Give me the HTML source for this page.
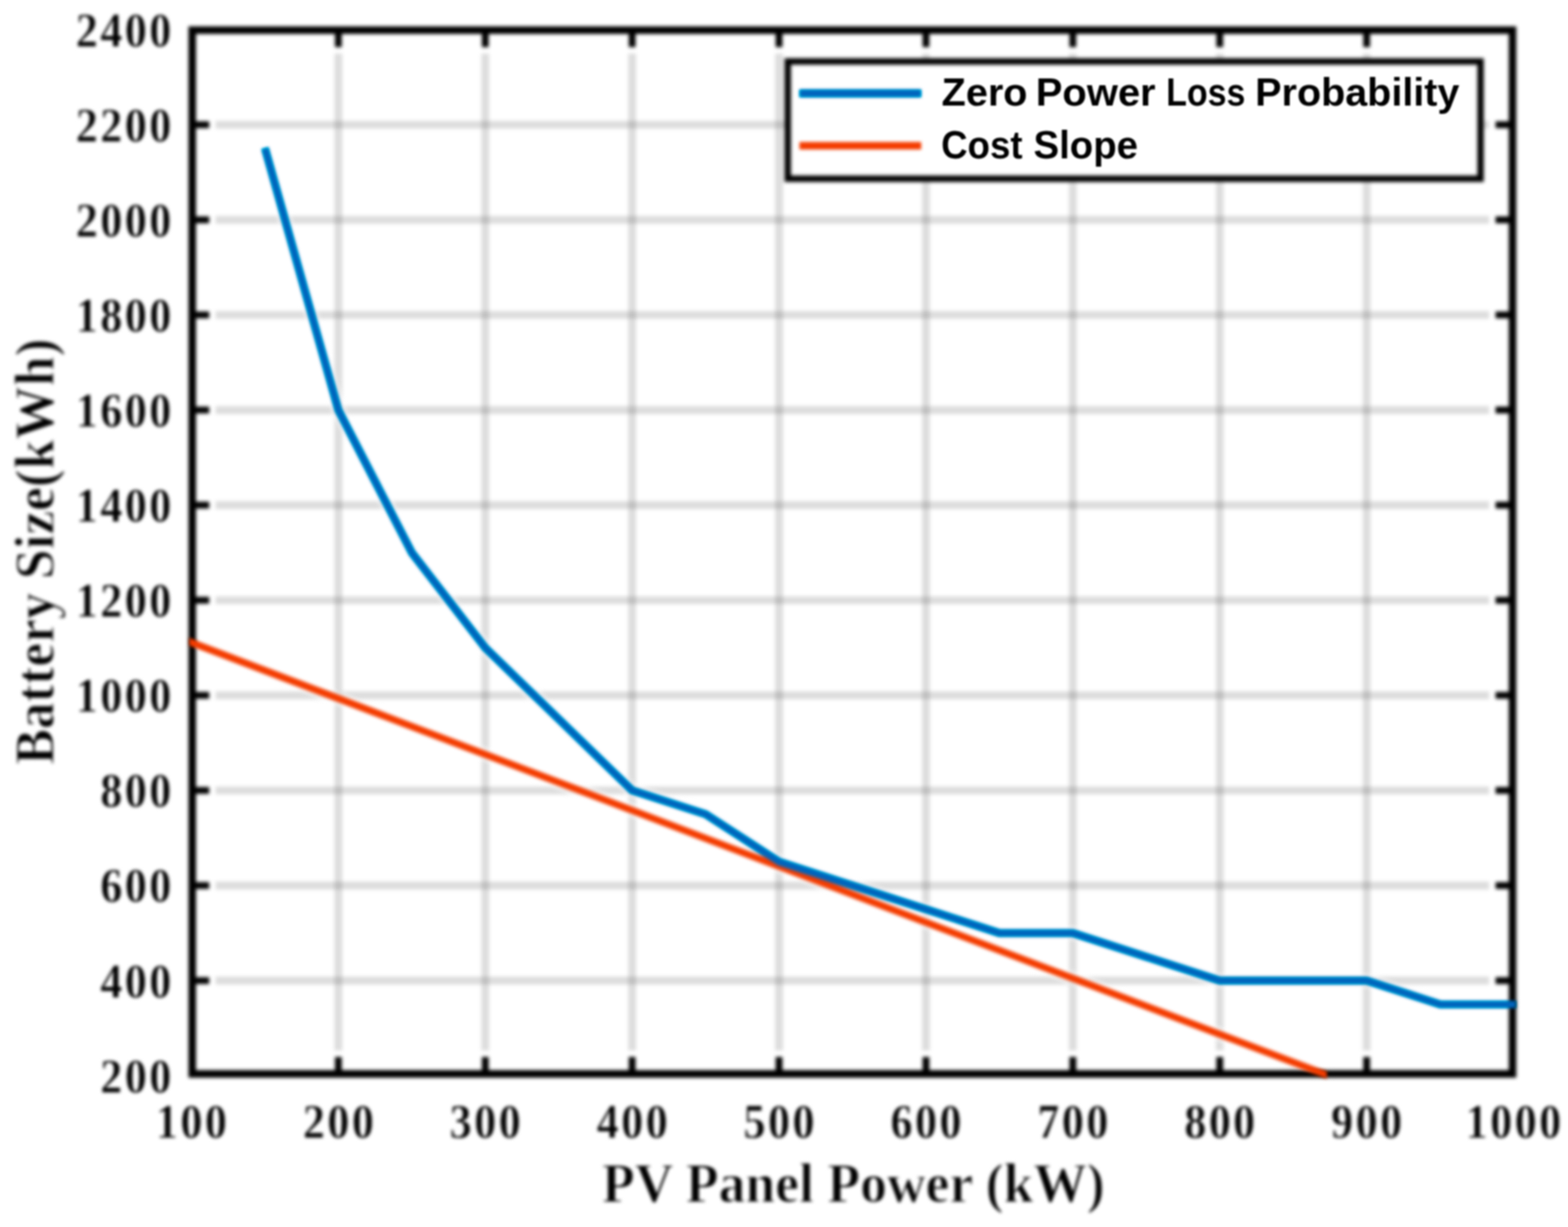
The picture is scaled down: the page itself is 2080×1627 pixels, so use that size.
<!DOCTYPE html>
<html lang="en"><head><meta charset="utf-8"><title>Battery Size vs PV Panel Power</title>
<style>
html,body{margin:0;padding:0;background:#fff;}
body{width:2080px;height:1627px;}
svg{display:block;}
.serif{font-family:"Liberation Serif","DejaVu Serif",serif;font-weight:bold;fill:#000;}
.sans{font-family:"Liberation Sans","DejaVu Sans",sans-serif;font-weight:bold;fill:#000;}
.mul{mix-blend-mode:multiply;}
</style></head><body>
<svg width="2080" height="1627" viewBox="0 0 2080 1627" role="img" aria-label="Battery size versus PV panel power">
<defs>
<filter id="soft" x="0" y="0" width="2080" height="1627" filterUnits="userSpaceOnUse" color-interpolation-filters="sRGB"><feGaussianBlur stdDeviation="2.4"/></filter>
<filter id="softc" x="0" y="0" width="2080" height="1627" filterUnits="userSpaceOnUse" color-interpolation-filters="sRGB"><feGaussianBlur stdDeviation="2.0"/></filter>
<filter id="softt" x="0" y="0" width="2080" height="1627" filterUnits="userSpaceOnUse" color-interpolation-filters="sRGB"><feGaussianBlur stdDeviation="2.2"/></filter>
<filter id="soft2" x="0" y="0" width="2080" height="1627" filterUnits="userSpaceOnUse" color-interpolation-filters="sRGB"><feGaussianBlur stdDeviation="0.9"/></filter>
<filter id="sat" x="0" y="0" width="2080" height="1627" filterUnits="userSpaceOnUse" color-interpolation-filters="sRGB"><feGaussianBlur stdDeviation="1.6"/><feComponentTransfer><feFuncA type="linear" slope="1.0" intercept="0"/></feComponentTransfer></filter>
<clipPath id="redclip"><rect x="251" y="0" width="1509" height="1430.5"/></clipPath>
<clipPath id="blueclip"><rect x="0" y="0" width="2010.9" height="1627"/></clipPath>
</defs>
<rect width="2080" height="1627" fill="#fff"/>
<g filter="url(#soft)">
<g stroke="#000" stroke-opacity="0.133" stroke-width="10.4" fill="none">
<line x1="448.85" y1="71" x2="448.85" y2="1393"/>
<line x1="643.71" y1="71" x2="643.71" y2="1393"/>
<line x1="838.57" y1="71" x2="838.57" y2="1393"/>
<line x1="1033.43" y1="71" x2="1033.43" y2="1393"/>
<line x1="1228.29" y1="71" x2="1228.29" y2="1393"/>
<line x1="1423.15" y1="71" x2="1423.15" y2="1393"/>
<line x1="1618.01" y1="71" x2="1618.01" y2="1393"/>
<line x1="1812.87" y1="71" x2="1812.87" y2="1393"/>
<line x1="286" y1="1300.3" x2="1975.4" y2="1300.3"/>
<line x1="286" y1="1174.2" x2="1975.4" y2="1174.2"/>
<line x1="286" y1="1048.1" x2="1975.4" y2="1048.1"/>
<line x1="286" y1="922" x2="1975.4" y2="922"/>
<line x1="286" y1="795.9" x2="1975.4" y2="795.9"/>
<line x1="286" y1="669.8" x2="1975.4" y2="669.8"/>
<line x1="286" y1="543.7" x2="1975.4" y2="543.7"/>
<line x1="286" y1="417.6" x2="1975.4" y2="417.6"/>
<line x1="286" y1="291.5" x2="1975.4" y2="291.5"/>
<line x1="286" y1="165.4" x2="1975.4" y2="165.4"/>
</g>
<g stroke="#fff" stroke-width="18" fill="none" stroke-linejoin="round" stroke-linecap="round" opacity="0.6">
<line x1="255" y1="852.4" x2="1760" y2="1425.5"/>
<polyline points="351.42,196.29 448.85,543.7 546.28,732.85 643.71,858.95 741.14,953.52 838.57,1048.1 936,1079.62 1033.43,1142.67 1130.86,1174.2 1228.29,1205.72 1325.72,1237.25 1423.15,1237.25 1520.58,1268.78 1618.01,1300.3 1715.44,1300.3 1812.87,1300.3 1910.3,1331.83 2007.73,1331.83 2013.58,1331.83"/>
</g>
<g stroke="#000" stroke-width="9" fill="none">
<line x1="448.85" y1="1424" x2="448.85" y2="1401.5"/>
<line x1="448.85" y1="40" x2="448.85" y2="62.5"/>
<line x1="643.71" y1="1424" x2="643.71" y2="1401.5"/>
<line x1="643.71" y1="40" x2="643.71" y2="62.5"/>
<line x1="838.57" y1="1424" x2="838.57" y2="1401.5"/>
<line x1="838.57" y1="40" x2="838.57" y2="62.5"/>
<line x1="1033.43" y1="1424" x2="1033.43" y2="1401.5"/>
<line x1="1033.43" y1="40" x2="1033.43" y2="62.5"/>
<line x1="1228.29" y1="1424" x2="1228.29" y2="1401.5"/>
<line x1="1228.29" y1="40" x2="1228.29" y2="62.5"/>
<line x1="1423.15" y1="1424" x2="1423.15" y2="1401.5"/>
<line x1="1423.15" y1="40" x2="1423.15" y2="62.5"/>
<line x1="1618.01" y1="1424" x2="1618.01" y2="1401.5"/>
<line x1="1618.01" y1="40" x2="1618.01" y2="62.5"/>
<line x1="1812.87" y1="1424" x2="1812.87" y2="1401.5"/>
<line x1="1812.87" y1="40" x2="1812.87" y2="62.5"/>
<line x1="255" y1="1300.3" x2="277.5" y2="1300.3"/>
<line x1="2006.4" y1="1300.3" x2="1983.9" y2="1300.3"/>
<line x1="255" y1="1174.2" x2="277.5" y2="1174.2"/>
<line x1="2006.4" y1="1174.2" x2="1983.9" y2="1174.2"/>
<line x1="255" y1="1048.1" x2="277.5" y2="1048.1"/>
<line x1="2006.4" y1="1048.1" x2="1983.9" y2="1048.1"/>
<line x1="255" y1="922" x2="277.5" y2="922"/>
<line x1="2006.4" y1="922" x2="1983.9" y2="922"/>
<line x1="255" y1="795.9" x2="277.5" y2="795.9"/>
<line x1="2006.4" y1="795.9" x2="1983.9" y2="795.9"/>
<line x1="255" y1="669.8" x2="277.5" y2="669.8"/>
<line x1="2006.4" y1="669.8" x2="1983.9" y2="669.8"/>
<line x1="255" y1="543.7" x2="277.5" y2="543.7"/>
<line x1="2006.4" y1="543.7" x2="1983.9" y2="543.7"/>
<line x1="255" y1="417.6" x2="277.5" y2="417.6"/>
<line x1="2006.4" y1="417.6" x2="1983.9" y2="417.6"/>
<line x1="255" y1="291.5" x2="277.5" y2="291.5"/>
<line x1="2006.4" y1="291.5" x2="1983.9" y2="291.5"/>
<line x1="255" y1="165.4" x2="277.5" y2="165.4"/>
<line x1="2006.4" y1="165.4" x2="1983.9" y2="165.4"/>
</g>
<rect x="255" y="40" width="1751.4" height="1384" fill="none" stroke="#000" stroke-width="10"/>
<rect x="1045" y="81.5" width="919" height="155.5" fill="#fff" stroke="#000" stroke-width="8.5"/>
</g>
<g class="mul" filter="url(#sat)">
<g clip-path="url(#blueclip)"><polyline points="351.42,196.29 448.85,543.7 546.28,732.85 643.71,858.95 741.14,953.52 838.57,1048.1 936,1079.62 1033.43,1142.67 1130.86,1174.2 1228.29,1205.72 1325.72,1237.25 1423.15,1237.25 1520.58,1268.78 1618.01,1300.3 1715.44,1300.3 1812.87,1300.3 1910.3,1331.83 2007.73,1331.83 2013.58,1331.83" fill="none" stroke="#00ffff" stroke-width="9.2" stroke-linejoin="round" stroke-linecap="butt"/></g>
<line x1="1060.5" y1="123.8" x2="1222" y2="123.8" stroke="#00ffff" stroke-width="9.8"/>
</g>
<g filter="url(#softc)">
<g clip-path="url(#redclip)"><line x1="235" y1="844.78" x2="1780" y2="1433.12" stroke="#f43c00" stroke-width="9.4"/></g>
<g clip-path="url(#blueclip)"><polyline points="351.42,196.29 448.85,543.7 546.28,732.85 643.71,858.95 741.14,953.52 838.57,1048.1 936,1079.62 1033.43,1142.67 1130.86,1174.2 1228.29,1205.72 1325.72,1237.25 1423.15,1237.25 1520.58,1268.78 1618.01,1300.3 1715.44,1300.3 1812.87,1300.3 1910.3,1331.83 2007.73,1331.83 2013.58,1331.83" fill="none" stroke="#0064bc" stroke-width="9.9" stroke-linejoin="round" stroke-linecap="butt"/></g>
<line x1="1060.5" y1="123.8" x2="1222" y2="123.8" stroke="#0064bc" stroke-width="10.5"/>
<line x1="1060.5" y1="193.2" x2="1222" y2="193.2" stroke="#f43c00" stroke-width="10"/>
</g>
<g filter="url(#softt)">
<g class="serif" font-size="65" letter-spacing="3.61" stroke="#fff" stroke-width="0.8">
<text transform="translate(133.12 1448.6) scale(0.9 1.015)">200</text>
<text transform="translate(133.12 1322.5) scale(0.9 1.015)">400</text>
<text transform="translate(133.12 1196.4) scale(0.9 1.015)">600</text>
<text transform="translate(133.12 1070.3) scale(0.9 1.015)">800</text>
<text transform="translate(100.62 944.2) scale(0.9 1.015)">1000</text>
<text transform="translate(100.62 818.1) scale(0.9 1.015)">1200</text>
<text transform="translate(100.62 692) scale(0.9 1.015)">1400</text>
<text transform="translate(100.62 565.9) scale(0.9 1.015)">1600</text>
<text transform="translate(100.62 439.8) scale(0.9 1.015)">1800</text>
<text transform="translate(100.62 313.7) scale(0.9 1.015)">2000</text>
<text transform="translate(100.62 187.6) scale(0.9 1.015)">2200</text>
<text transform="translate(100.62 61.5) scale(0.9 1.015)">2400</text>
<text transform="translate(206.87 1509) scale(0.9 1.015)">100</text>
<text transform="translate(401.73 1509) scale(0.9 1.015)">200</text>
<text transform="translate(596.59 1509) scale(0.9 1.015)">300</text>
<text transform="translate(791.45 1509) scale(0.9 1.015)">400</text>
<text transform="translate(986.31 1509) scale(0.9 1.015)">500</text>
<text transform="translate(1181.16 1509) scale(0.9 1.015)">600</text>
<text transform="translate(1376.03 1509) scale(0.9 1.015)">700</text>
<text transform="translate(1570.89 1509) scale(0.9 1.015)">800</text>
<text transform="translate(1765.74 1509) scale(0.9 1.015)">900</text>
<text transform="translate(1944.36 1509) scale(0.9 1.015)">1000</text>
</g>
<text class="serif" stroke="#fff" stroke-width="1.4" font-size="71" transform="translate(1132 1594) scale(1 1.03)" text-anchor="middle" textLength="667" lengthAdjust="spacingAndGlyphs">PV Panel Power (kW)</text>
<text class="serif" stroke="#fff" stroke-width="1.4" font-size="71" transform="translate(71 731.5) rotate(-90) scale(1 1.03)" text-anchor="middle" textLength="565" lengthAdjust="spacingAndGlyphs">Battery Size(kWh)</text>
</g>
<g filter="url(#soft2)">
<text class="sans" font-size="52" y="139.5"><tspan x="1249" textLength="114" lengthAdjust="spacingAndGlyphs">Zero</tspan> <tspan x="1374" textLength="159" lengthAdjust="spacingAndGlyphs">Power</tspan> <tspan x="1547" textLength="105" lengthAdjust="spacingAndGlyphs">Loss</tspan> <tspan x="1665" textLength="271" lengthAdjust="spacingAndGlyphs">Probability</tspan></text>
<text class="sans" font-size="52" y="210"><tspan x="1248.5" textLength="108" lengthAdjust="spacingAndGlyphs">Cost</tspan> <tspan x="1371" textLength="138.5" lengthAdjust="spacingAndGlyphs">Slope</tspan></text>
</g>
</svg>
</body></html>
